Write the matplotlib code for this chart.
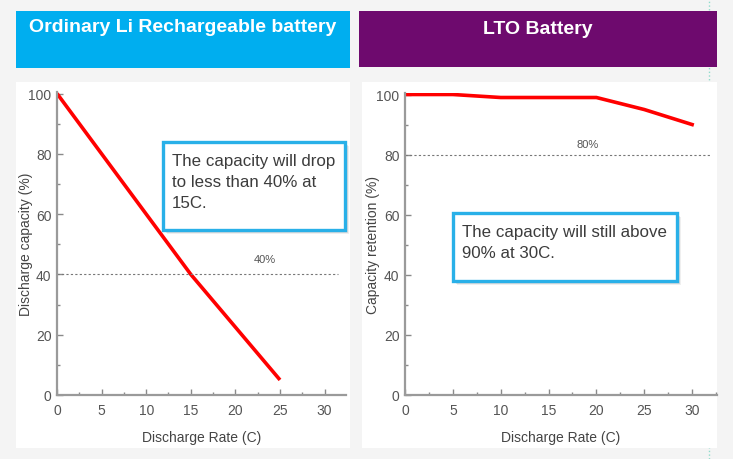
import numpy as np
import matplotlib
matplotlib.use("Agg")
import matplotlib.pyplot as plt
from matplotlib.patches import Rectangle
from matplotlib.lines import Line2D

## DATA
# Ordinary Li rechargeable battery
li_rate = [0, 15, 25]
li_capacity = [100, 40, 5]

# LTO battery
lto_rate = [0, 5, 10, 20, 25, 30]
lto_retention = [100, 100, 99, 99, 95, 90]

x_ticks = [0, 5, 10, 15, 20, 25, 30]
y_ticks = [0, 20, 40, 60, 80, 100]

li_limit = 40
lto_limit = 80

titles = ["Ordinary Li Rechargeable battery", "LTO Battery"]
notes = ["The capacity will drop\nto less than 40% at\n15C.",
         "The capacity will still above\n90% at 30C."]


W, H = 733, 460

def px(x, y):
    # pixel (top-left origin) -> figure fraction
    return x / W, 1 - y / H

plt.rcParams['font.family'] = ["Liberation Sans", "DejaVu Sans"]

fig = plt.figure(figsize=(W / 100, H / 100), dpi=100)
fig.patch.set_facecolor('#f4f4f4')

# teal dotted guide line on the slide
fig.add_artist(Line2D([709 / W, 709 / W], [0, 1], color='#8fdccb', lw=1,
                      linestyle=':', zorder=-3))

# white panels behind each chart
for x0, x1 in [(16, 350), (362, 717)]:
    fig.add_artist(Rectangle(px(x0, 449), (x1 - x0) / W, (449 - 83) / H,
                             facecolor='white', edgecolor='none', zorder=-2))

# header bars
headers = [(16, 350, 12, 69, '#00aeef', 27), (359, 717, 12, 68, '#6e0a6e', 30)]
for (x0, x1, y0, y1, c, ty), t in zip(headers, titles):
    fig.add_artist(Rectangle(px(x0, y1), (x1 - x0) / W, (y1 - y0) / H,
                             facecolor=c, edgecolor='none', zorder=-1))
    fig.text(*px((x0 + x1) / 2, ty), t, color='white', fontsize=14,
             fontweight='bold', ha='center', va='center')


def style_axis(ax, xmax, ylabel, ylab_x):
    ax.set_facecolor('none')
    ax.set_xlim(0, xmax)
    ax.set_ylim(0, 100.5)
    ax.set_xticks(x_ticks)
    ax.set_yticks(y_ticks)
    ax.set_xticks(np.arange(2.5, xmax, 5), minor=True)
    ax.set_yticks(np.arange(10, 100, 20), minor=True)
    for s in ['top', 'right']:
        ax.spines[s].set_visible(False)
    for s in ['left', 'bottom']:
        ax.spines[s].set_color('#9a9a9a')
        ax.spines[s].set_linewidth(1.6)
    ax.tick_params(which='major', direction='in', length=4, width=1,
                   color='#8a8a8a', labelcolor='#555555', labelsize=10)
    ax.tick_params(axis='x', which='major', pad=6)
    ax.tick_params(axis='y', which='major', pad=4)
    ax.tick_params(which='minor', direction='in', length=2.5, width=1,
                   color='#8a8a8a')
    ax.set_xlabel("Discharge Rate (C)", fontsize=10, color='#444444')
    ax.set_ylabel(ylabel, fontsize=10, color='#444444')
    ax.xaxis.set_label_coords(0.5, -(431 - 396) / (396 - 93))
    ax.yaxis.set_label_coords(ylab_x, 0.5)


# ---- Left chart
ax1 = fig.add_axes([57 / W, 1 - 396 / H, (346 - 57) / W, (396 - 93) / H])
ax1.plot(li_rate, li_capacity, color='#ff0000', lw=2.6, solid_capstyle='butt')
ax1.axhline(li_limit, xmin=0, xmax=31.5 / 32.4, color='#777777', lw=0.8,
            linestyle=(0, (2, 2)))
ax1.text(23.3, li_limit + 5, "40%", fontsize=8, color='#555555',
         ha='center', va='center')
style_axis(ax1, 32.4, "Discharge capacity (%)", -(57 - 33) / (346 - 57))

# ---- Right chart
ax2 = fig.add_axes([405 / W, 1 - 396 / H, (717 - 405) / W, (396 - 94) / H])
ax2.plot(lto_rate, lto_retention, color='#ff0000', lw=2.6)
ax2.axhline(lto_limit, xmin=0, xmax=31.9 / 32.6, color='#777777', lw=0.8,
            linestyle=(0, (2, 2)))
ax2.text(19.1, lto_limit + 3.5, "80%", fontsize=8, color='#555555',
         ha='center', va='center')
style_axis(ax2, 32.6, "Capacity retention (%)", -(405 - 380) / (717 - 405))

# ---- note boxes
boxes = [(163, 345, 143, 231), (453, 677, 214, 282)]
for (x0, x1, y0, y1), note in zip(boxes, notes):
    for off, a in [(4, 0.12), (3, 0.18), (2, 0.25)]:
        fig.add_artist(Rectangle(px(x0 + off, y1 + off), (x1 - x0) / W,
                                 (y1 - y0) / H, facecolor='#808080',
                                 edgecolor='none', alpha=a, zorder=4))
    fig.add_artist(Rectangle(px(x0, y1), (x1 - x0) / W, (y1 - y0) / H,
                             facecolor='white', edgecolor='#29b0e8', lw=2.4,
                             zorder=5))
    fig.text(*px(x0 + 9, y0 + 11), note, fontsize=12.2, color='#3c3c3c',
             ha='left', va='top', linespacing=1.5, zorder=6)

fig.savefig("out.png", dpi=100, facecolor=fig.get_facecolor())
